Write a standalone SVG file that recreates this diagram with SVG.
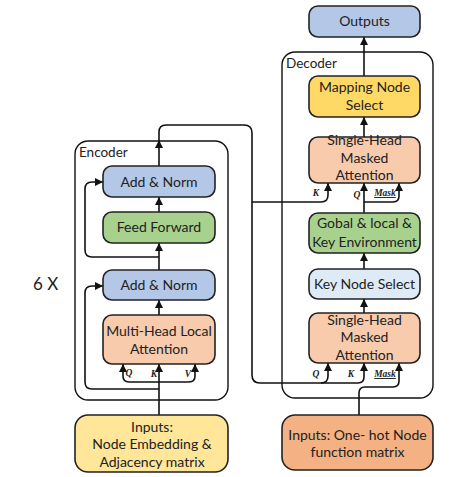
<svg xmlns="http://www.w3.org/2000/svg" width="474" height="477" viewBox="0 0 474 477">
<defs>
<marker id="arr" markerUnits="userSpaceOnUse" markerWidth="8" markerHeight="8" viewBox="0 0 8 8" refX="8" refY="4" orient="auto">
<path d="M0,0 L8,4 L0,8 Z" fill="#111"/>
</marker>
<style>
.box{stroke:#222;stroke-width:1.6}
.cont{fill:none;stroke:#111;stroke-width:1.4}
.t{font-family:Lato,"Open Sans",sans-serif;font-size:14px;fill:#222;text-anchor:middle}
.lbl{font-family:Lato,"Open Sans",sans-serif;font-size:13.5px;fill:#222}
.qkv{font-family:"Liberation Serif",serif;font-size:9.5px;font-style:italic;font-weight:bold;fill:#222;text-anchor:middle}
.c{fill:none;stroke:#111;stroke-width:1.6}
.blue{fill:#b4c7e7}.green{fill:#a9d18e}.orange{fill:#f8cbad}.yellow{fill:#ffd966}.pale{fill:#ffe699}.lblue{fill:#deebf7}.dorange{fill:#f4b183}
</style>
</defs>
<rect width="474" height="477" fill="#fff"/>

<g id="encoder">
<rect class="cont" x="75" y="141" width="153" height="259" rx="13"/>
<text class="lbl" x="79" y="157">Encoder</text>
</g>
<g id="decoder">
<rect class="cont" x="282" y="52" width="151" height="346" rx="13"/>
<text class="lbl" x="286" y="68">Decoder</text>
</g>
<g id="repeat"><text x="33" y="290" style="font-family:Lato,'Open Sans',sans-serif;font-size:17px;fill:#222">6 X</text></g>

<g id="connectors">
<path class="c" d="M159,415 V364" marker-end="url(#arr)"/>
<path class="c" d="M159,382 H129 Q123,382 123,376 V364" marker-end="url(#arr)"/>
<path class="c" d="M159,382 H189 Q195,382 195,376 V364" marker-end="url(#arr)"/>
<path class="c" d="M159,389 H92 Q85,389 85,382 V293 Q85,286 92,286 H103" marker-end="url(#arr)"/>
<path class="c" d="M159,257 H92 Q85,257 85,250 V189 Q85,182 92,182 H103" marker-end="url(#arr)"/>
<path class="c" d="M159,315 V300" marker-end="url(#arr)"/>
<path class="c" d="M159,270 V243" marker-end="url(#arr)"/>
<path class="c" d="M159,212 V197" marker-end="url(#arr)"/>
<path class="c" d="M159,166 V140" marker-end="url(#arr)"/>
<path class="c" d="M159,142 V132 Q159,125 166,125 H244 Q252,125 252,133 V375 Q252,383 260,383 H358 Q364,383 364,377 V363" marker-end="url(#arr)"/>
<path class="c" d="M321,383 Q328,383 328,376 V363" marker-end="url(#arr)"/>
<path class="c" d="M252,202 H321 Q328,202 328,195 V183" marker-end="url(#arr)"/>
<path class="c" d="M359,415 V393 Q359,387 365,387 H393 Q399,387 399,381 V363" marker-end="url(#arr)"/>
<path class="c" d="M364,313 V299" marker-end="url(#arr)"/>
<path class="c" d="M364,269 V253" marker-end="url(#arr)"/>
<path class="c" d="M364,213 V183" marker-end="url(#arr)"/>
<path class="c" d="M364,202 H393 Q399,202 399,196 V183" marker-end="url(#arr)"/>
<path class="c" d="M364,137 V117" marker-end="url(#arr)"/>
<path class="c" d="M364,76 V37" marker-end="url(#arr)"/>
<text class="qkv" x="129" y="376">Q</text>
<text class="qkv" x="154" y="377">K</text>
<text class="qkv" x="188" y="377">V</text>
<text class="qkv" x="316" y="196">K</text>
<text class="qkv" x="357" y="198">Q</text>
<text class="qkv" x="385" y="196" text-decoration="underline">Mask</text>
<text class="qkv" x="316" y="377">Q</text>
<text class="qkv" x="351" y="377">K</text>
<text class="qkv" x="385" y="377" text-decoration="underline">Mask</text>
</g>

<g id="enc-addnorm2">
<rect class="box blue" x="103" y="166" width="112" height="31" rx="9"/>
<text class="t" x="159" y="187">Add &amp; Norm</text>
</g>
<g id="enc-ff">
<rect class="box green" x="103" y="212" width="112" height="31" rx="9"/>
<text class="t" x="159" y="232">Feed Forward</text>
</g>
<g id="enc-addnorm1">
<rect class="box blue" x="103" y="270" width="112" height="30" rx="9"/>
<text class="t" x="159" y="290">Add &amp; Norm</text>
</g>
<g id="enc-mhla">
<rect class="box orange" x="103" y="315" width="112" height="49" rx="9"/>
<text class="t" x="159" y="336">Multi-Head Local</text>
<text class="t" x="159" y="354">Attention</text>
</g>
<g id="enc-inputs">
<rect class="box pale" x="75" y="415" width="153" height="57" rx="13"/>
<text class="t" x="152" y="432">Inputs:</text>
<text class="t" x="152" y="449">Node Embedding &amp;</text>
<text class="t" x="152" y="467">Adjacency matrix</text>
</g>

<g id="outputs">
<rect class="box blue" x="309" y="6" width="111" height="31" rx="9"/>
<text class="t" x="364.5" y="26">Outputs</text>
</g>
<g id="dec-mapping">
<rect class="box yellow" x="309" y="76" width="111" height="41" rx="9"/>
<text class="t" x="364.5" y="92">Mapping Node</text>
<text class="t" x="364.5" y="110">Select</text>
</g>
<g id="dec-sh2">
<rect class="box orange" x="309" y="137" width="111" height="46" rx="9"/>
<text class="t" x="364.5" y="145">Single-Head</text>
<text class="t" x="364.5" y="163">Masked</text>
<text class="t" x="364.5" y="180">Attention</text>
</g>
<g id="dec-gobal">
<rect class="box green" x="309" y="213" width="111" height="40" rx="9"/>
<text class="t" x="364.5" y="228">Gobal &amp; local &amp;</text>
<text class="t" x="364.5" y="247">Key Environment</text>
</g>
<g id="dec-keynode">
<rect class="box lblue" x="309" y="269" width="111" height="30" rx="9"/>
<text class="t" x="364.5" y="289">Key Node Select</text>
</g>
<g id="dec-sh1">
<rect class="box orange" x="309" y="313" width="111" height="50" rx="9"/>
<text class="t" x="364.5" y="325">Single-Head</text>
<text class="t" x="364.5" y="342">Masked</text>
<text class="t" x="364.5" y="360">Attention</text>
</g>
<g id="dec-inputs">
<rect class="box dorange" x="282" y="415" width="151" height="55" rx="13"/>
<text class="t" x="357.5" y="440">Inputs: One- hot Node</text>
<text class="t" x="357.5" y="457">function matrix</text>
</g>
</svg>
